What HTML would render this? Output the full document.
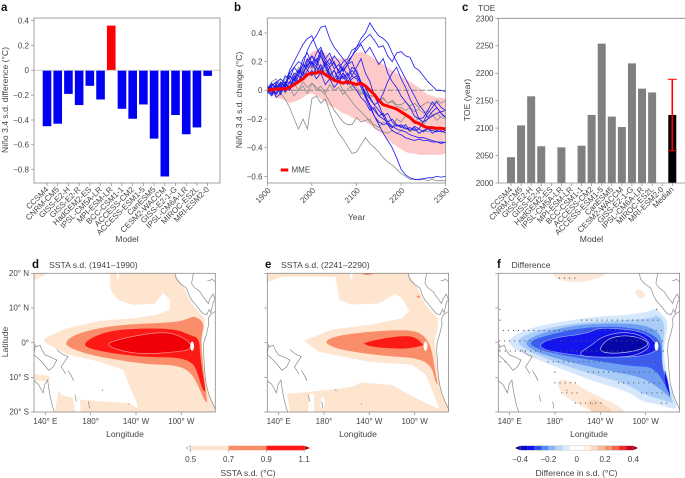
<!DOCTYPE html>
<html>
<head>
<meta charset="utf-8">
<title>ENSO variability figure</title>
<style>
html,body{margin:0;padding:0;background:#fff;}
svg{display:block;}
text{font-family:"Liberation Sans",sans-serif;fill:#444;font-size:8px;}
.t{font-size:8.6px;fill:#444;}
.p{font-size:11.5px;font-weight:bold;fill:#111;}
</style>
</head>
<body>
<svg id="fig" xmlns="http://www.w3.org/2000/svg" width="685" height="478" viewBox="0 0 685 478">
<rect x="0" y="0" width="685" height="478" fill="#fff"/>
<text class="p" x="1" y="11">a</text>
<text class="p" x="234" y="11">b</text>
<text class="p" x="462" y="11">c</text>
<text class="t" x="478" y="11">TOE</text>
<text class="p" x="32" y="268">d</text>
<text class="t" x="49" y="268">SSTA s.d. (1941–1990)</text>
<text class="p" x="265" y="268">e</text>
<text class="t" x="281" y="268">SSTA s.d. (2241–2290)</text>
<text class="p" x="497" y="268">f</text>
<text class="t" x="511.5" y="268">Difference</text>
<text class="t" text-anchor="middle" transform="translate(8,100) rotate(-90)">Niño 3.4 s.d. difference (°C)</text>
<text class="t" text-anchor="middle" x="127" y="242">Model</text>
<text class="t" text-anchor="middle" transform="translate(242,100) rotate(-90)">Niño 3.4 s.d. change (°C)</text>
<text class="t" text-anchor="middle" x="356.5" y="220">Year</text>
<text class="t" text-anchor="middle" transform="translate(470,100) rotate(-90)">TOE (year)</text>
<text class="t" text-anchor="middle" x="591.5" y="242">Model</text>
<text class="t" text-anchor="middle" transform="translate(8,342) rotate(-90)">Latitude</text>
<text class="t" text-anchor="middle" x="125" y="437">Longitude</text>
<text class="t" text-anchor="middle" x="358" y="437">Longitude</text>
<text class="t" text-anchor="middle" x="589" y="437">Longitude</text>
<text class="t" text-anchor="middle" x="248" y="476">SSTA s.d. (°C)</text>
<text class="t" text-anchor="middle" x="576.5" y="476">Difference in s.d. (°C)</text>
</svg>
<script>
// ---------- Panel a data ----------
const modelsA = ["CCSM4","CNRM-CM5","GISS-E2-H","GISS-E2-R","HadGEM2-ES","IPSL-CM5A-LR","MPI-ESM-LR","BCC-CSM1-1","ACCESS-CM2","ACCESS-ESM1-5","CanESM5","CESM2-WACCM","GISS-E2-1-G","IPSL-CM6A-LR","MIROC-ES2L","MRI-ESM2-0"];
const sdDifference = [-0.45,-0.43,-0.19,-0.28,-0.125,-0.235,0.36,-0.31,-0.39,-0.275,-0.55,-0.855,-0.36,-0.515,-0.46,-0.045];
const ticksA = [0.4,0.2,0,-0.2,-0.4,-0.6,-0.8];
const ticksALabels = ["0.4","0.2","0","−0.2","−0.4","−0.6","−0.8"];

// ---------- Panel b data ----------
const years = [1900,1910,1920,1930,1940,1950,1960,1970,1980,1990,2000,2010,2020,2030,2040,2050,2060,2070,2080,2090,2100,2110,2120,2130,2140,2150,2160,2170,2180,2190,2200,2210,2220,2230,2240,2250,2260,2270,2280,2290,2300];
const bandUpper = [.03,.04,.04,.05,.06,.08,.11,.15,.19,.23,.27,.28,.28,.26,.24,.23,.22,.22,.22,.24,.26,.27,.26,.24,.22,.20,.18,.16,.14,.12,.10,.08,.06,.04,.02,-.01,-.03,-.04,-.05,-.05,-.06];
const bandLower = [-.02,-.03,-.05,-.06,-.07,-.09,-.08,-.07,-.05,-.03,-.02,-.04,-.06,-.08,-.11,-.12,-.14,-.16,-.17,-.19,-.20,-.21,-.22,-.24,-.26,-.28,-.31,-.34,-.37,-.39,-.41,-.43,-.44,-.44,-.45,-.45,-.45,-.45,-.45,-.45,-.44];
const mme = [.01,.00,.01,.01,.01,.02,.04,.06,.08,.11,.12,.12,.13,.11,.09,.07,.06,.05,.06,.05,.04,.05,.03,.00,-.03,-.07,-.10,-.11,-.12,-.13,-.15,-.17,-.19,-.22,-.23,-.25,-.26,-.26,-.265,-.265,-.27];
const blue1 = [.00,.03,.06,.02,.10,.08,.16,.20,.18,.28,.34,.38,.44,.45,.36,.30,.26,.22,.18,.20,.12,.06,.02,-.05,-.10,-.14,-.18,-.16,-.22,-.25,-.24,-.26,-.28,-.25,-.27,-.22,-.20,-.18,-.16,-.15,-.14];
const blue2 = [.01,-.03,.04,.00,.06,.05,.12,.10,.18,.14,.20,.12,.18,.10,.16,.08,.14,.20,.22,.28,.30,.36,.40,.47,.42,.38,.36,.33,.26,.20,.14,.08,.02,-.04,-.10,-.14,-.19,-.15,-.12,-.16,-.19];
const blue3 = [-.01,.02,-.02,.05,.03,.10,.07,.14,.12,.18,.20,.16,.24,.18,.22,.15,.18,.13,.18,.24,.30,.33,.36,.39,.35,.30,.31,.24,.20,.26,.27,.24,.23,.16,.14,.10,.06,.03,.00,.00,-.01];
const blue4 = [-.02,.01,-.03,.02,.00,.06,.04,.10,.08,.14,.10,.16,.12,.18,.10,.14,.08,.12,.06,.10,.08,.02,-.05,-.12,-.18,-.24,-.30,-.35,-.40,-.47,-.55,-.59,-.61,-.62,-.62,-.615,-.61,-.61,-.60,-.605,-.60];
const blue5 = [.02,-.02,.03,-.01,.04,.02,.08,.14,.10,.20,.24,.18,.26,.20,.16,.20,.12,.16,.10,.16,.14,.06,-.04,-.10,-.14,-.18,-.20,-.22,-.25,-.27,-.28,-.29,-.31,-.32,-.33,-.33,-.34,-.35,-.36,-.36,-.365];
const blue6 = [.00,.04,.01,.06,.02,.12,.16,.12,.22,.26,.18,.26,.30,.22,.18,.24,.20,.14,.18,.10,.16,.22,.12,.06,-.04,-.10,-.18,-.24,-.28,-.30,-.31,-.33,-.34,-.35,-.34,-.35,-.35,-.36,-.36,-.37,-.36];
const blue7 = [-.01,-.04,.02,-.03,.05,.02,.10,.06,.15,.22,.16,.22,.14,.20,.12,.06,.10,.16,.20,.24,.28,.32,.26,.30,.24,.18,.22,.12,.06,.02,-.04,-.08,-.12,-.18,-.20,-.19,-.14,-.08,-.12,-.16,-.19];
const blue8 = [.01,.05,.00,.04,-.01,.03,.08,.05,.12,.10,.14,.08,.12,.04,.08,.02,.06,.10,.04,.08,.10,.05,-.02,-.06,-.10,-.08,-.02,.06,.12,.16,.08,.02,-.06,-.12,-.20,-.22,-.16,-.12,-.08,-.12,-.14];
const blue9 = [.03,.00,.05,.08,.04,.14,.20,.26,.32,.36,.38,.30,.24,.16,.10,.14,.06,.12,.08,.14,.10,.04,-.03,-.10,-.18,-.22,-.24,-.23,-.26,-.24,-.25,-.27,-.26,-.28,-.27,-.29,-.27,-.28,-.29,-.28,-.30];
const blue10 = [.00,.02,-.05,-.02,.03,.00,.06,.12,.18,.16,.24,.20,.28,.22,.26,.18,.14,.08,.12,.04,.00,-.05,-.08,-.14,-.12,-.18,-.16,-.22,-.20,-.24,-.26,-.24,-.28,-.26,-.30,-.28,-.26,-.30,-.28,-.29,-.28];
const gray1 = [.00,.04,.05,-.02,-.06,-.12,-.20,-.27,-.20,-.27,-.06,-.04,-.09,-.06,-.15,-.24,-.30,-.34,-.39,-.44,-.43,-.38,-.33,-.37,-.40,-.43,-.47,-.50,-.52,-.55,-.58,-.60,-.62,-.62,-.625,-.62,-.63,-.62,-.63,-.63,-.63];
const gray2 = [.01,.06,.08,.03,-.02,.02,-.04,.00,.03,-.02,.05,.02,.00,-.03,-.08,-.14,-.18,-.22,-.24,-.24,-.19,-.22,-.21,-.20,-.26,-.28,-.29,-.30,-.28,-.30,-.28,-.26,-.29,-.27,-.30,-.28,-.29,-.27,-.28,-.26,-.27];
const gray3 = [-.01,.03,.06,.08,.05,.10,.08,.14,.12,.17,.15,.18,.12,.14,.10,.08,.06,.00,-.04,-.08,-.12,-.15,-.18,-.22,-.24,-.26,-.22,-.24,-.26,-.20,-.22,-.18,-.20,-.22,-.19,-.24,-.20,-.17,-.21,-.18,-.18];
const gray4 = [.02,.00,.04,.02,.08,.12,.10,.16,.13,.20,.18,.14,.16,.10,.12,.07,.09,.04,.06,.01,.00,-.03,-.01,-.05,-.04,-.08,-.06,-.09,-.07,-.10,-.10,-.08,-.11,-.09,-.12,-.10,-.08,-.10,-.07,-.09,-.07];
const gray5 = [.00,-.03,.03,.00,.06,.02,.05,.00,.06,.02,.05,.00,.03,-.02,.04,.00,.02,-.03,.01,.03,.02,-.02,.01,-.04,-.03,-.07,-.05,-.09,-.08,-.11,-.12,-.14,-.12,-.15,-.13,-.16,-.14,-.17,-.16,-.19,-.20];
const ticksB = [0.4,0.2,0,-0.2,-0.4,-0.6];
const ticksBLabels = ["0.4","0.2","0","−0.2","−0.4","−0.6"];
const ticksYear = [1900,2000,2100,2200,2300];

// ---------- Panel c data ----------
const modelsC = ["CCSM4","CNRM-CM5","GISS-E2-H","GISS-E2-R","HadGEM2-ES","IPSL-CM5A-LR","MPI-ESM-LR","BCC-CSM1-1","ACCESS-CM2","ACCESS-ESM1-5","CanESM5","CESM2-WACCM","GISS-E2-1-G","IPSL-CM6A-LR","MIROC-ES2L","MRI-ESM2-0","Median"];
const toeYear = [2047,2105,2158,2067,null,2065,null,2068,2124,2254,2121,2102,2218,2172,2165,null,2124];
const toeRange = [2059,2189];
const ticksC = [2000,2050,2100,2150,2200,2250,2300];

// ---------- Map data (longitude °E, latitude °N) ----------
const dWhite = [[130,18],[142.6,20],[197,20],[197.6,15.2],[204.4,12.3],[217.6,10.9],[236.8,11.3],[244,14.4],[250,12.3],[249.4,9.4],[238.2,8],[217.6,7],[188.2,6.3],[158.8,4.1],[138.8,1.2],[139.7,0],[158.8,-3.3],[188.2,-5.5],[208.8,-7.9],[213.2,-11.7],[221.2,-17.7],[220.6,-18.9],[214.7,-17.5],[194.1,-17],[170.6,-16.5],[171.2,-20],[166.2,-20],[164.7,-16],[154.4,-15.1],[151.5,-13.7],[148.5,-20],[130,-20],[130,-11],[144.1,-11],[143.5,-9.6],[130.9,-9.1],[130,-9]];
const landWhite = [[254.4,20],[261.8,16.2],[269.1,11.3],[275,8.9],[280.9,7],[280,3.7],[277.6,.8],[279.5,-6],[284,-15],[288.2,-18],[290,-20],[290,20]];
const notchWhite = [[202.5,20],[205.5,20],[204,17.5]];
const dOrange = [[157.4,0],[164.7,2.2],[188.2,4.4],[217.6,5.4],[252.9,5.8],[264.7,6.7],[270.6,7.7],[276.5,6.8],[280.3,5.1],[277.4,1.5],[278.8,-6],[282.9,-17.3],[282.9,-17.3],[280,-16.5],[273.5,-11.3],[266.2,-7.9],[252.9,-6.4],[232.4,-6.3],[202.9,-5],[176.5,-3.3],[160.3,-1.3]];
const dRed = [[172.9,-.4],[185.3,2.2],[202.9,3.7],[232.4,4.2],[255.9,3.8],[267.6,2.2],[275.9,1.3],[276.5,-4],[281.5,-14.1],[281.5,-14.1],[278.8,-13.7],[273.5,-7.9],[269.1,-5.5],[255.9,-4.2],[232.4,-4.2],[202.9,-3.3],[179.4,-1.8]];
const dDeep = [[194.1,-.5],[202.9,.8],[223.5,2.2],[241.2,3],[255.9,2.5],[269.1,-.2],[267.6,-2.1],[255.9,-2.6],[232.4,-3.3],[214.7,-2.9],[200,-1.6]];
const eWhite = [[130,17.4],[142.9,19],[190,19],[193.8,12.3],[204.7,11],[228.2,11.3],[242.9,14],[248.8,12.8],[255.3,9.2],[248.8,7],[219.4,5.1],[187.1,3.8],[162.6,.6],[175.3,-2.6],[219.4,-5.5],[257.6,-6.4],[269.4,-9],[275.3,-13.6],[281.8,-19.2],[272.4,-17.8],[257.6,-15.4],[240,-12.2],[213.5,-11.5],[204.7,-12.7],[181.2,-13.7],[147.4,-14.8],[150.3,-20],[130,-20]];
const eStrip = [[167,-14.7],[171,-14.7],[171.6,-20],[166,-20]];
const eIsland = [[178.8,-14.8],[181.3,-17.4],[178.8,-20],[176.3,-17.4]];
const eOrange = [[180.6,.3],[190,1.9],[219.4,3.2],[248.8,3.7],[263.5,3.2],[270.9,1],[275.3,-2.1],[277.4,-6.9],[280.6,-12.2],[280.6,-12.2],[278.2,-11.3],[275.3,-6.9],[263.5,-4.5],[240,-4],[219.4,-3.3],[195.9,-2.1],[185.6,-1]];
const eOrangeTop = [[213.5,20],[225.3,20],[220,19.5],[216,19.5]];
const eOrangeSpot = [[261.5,13.5],[265,13.5],[263.5,12.7]];
const eRed = [[215,-.2],[215,-.2],[225.3,.8],[248.8,2],[260.6,1.7],[267.9,-.7],[267.9,-.7],[254.7,-1.8],[234.1,-1.6],[219.4,-1]];
const fL1 = [[138.8,1.2],[156.5,4.1],[185.9,6.1],[215.3,7.5],[244.7,8],[262.4,8.9],[267.6,9.9],[272.6,8.9],[280,6.1],[277.6,1.7],[275.6,-4],[281.5,-12.7],[287.4,-18],[287.4,-18],[285.9,-19.4],[274.1,-18],[256.5,-17],[244.7,-14.1],[215.3,-11.3],[180,-6.9],[147.6,-2.6],[140.3,-.7]];
const fL2 = [[144.7,.8],[165.3,3.7],[200.6,5.8],[244.7,6.5],[263.8,7],[271.2,8],[277.1,5.6],[275.6,.3],[273.5,-5],[280,-12.7],[284.4,-17.5],[284.4,-17.5],[274.1,-16.5],[256.5,-14.6],[241.8,-11.7],[215.3,-9.3],[182.9,-6],[153.5,-2.1]];
const fL3 = [[152,.3],[171.2,3.2],[203.5,5.4],[244.7,5.6],[265.3,4.6],[275.6,1.3],[274.1,-6.9],[280.6,-13.2],[282,-16],[282,-16],[274.1,-13.7],[259.4,-10.3],[238.8,-8.8],[209.4,-6.9],[177,-4.2],[159.4,-2.1]];
const fL4 = [[156.5,.3],[177,2.5],[209.4,4.6],[244.7,4.6],[265.3,2.7],[274.1,-.2],[274.1,-6.9],[280.6,-12.7],[281.5,-15.6],[281.5,-15.6],[275.6,-10.8],[265.3,-6.9],[250.6,-6.9],[221.2,-5.5],[185.9,-3.6],[162.4,-1.6]];
const fL5 = [[165.3,-.7],[177,1.3],[209.4,2.7],[218.2,4.4],[250.6,3.7],[265.3,1.7],[271.2,-1.6],[265.3,-3.1],[250.6,-4.2],[215.3,-4.2],[185.9,-3.1],[171.2,-2.1]];
const fTail = [[277,-7.9],[277,-7.9],[280,-11.7],[281.5,-15.1],[281.5,-15.1],[277,-11.7]];
const fL6 = [[199.1,-3.6],[212.4,-.7],[221.2,1.7],[238.8,3.2],[256.5,2.2],[265.3,-.7],[256.5,-3.1],[241.8,-4.2],[215.3,-4.2]];
const fL7 = [[219.1,-1.6],[227.1,1.3],[241.8,2.2],[256.5,1.3],[263.8,-.4],[253.5,-2.3],[235.9,-3.1],[222.6,-2.9]];
const fPos = [[181.5,-11.7],[185.9,-10.3],[197.6,-11.7],[215.3,-15.1],[235.9,-18],[241.8,-20],[241.8,-20],[215.3,-20],[215.3,-20],[197.6,-17.5],[185.9,-14.6]];
const fPos2 = [[206.5,-17],[215.3,-16],[224.1,-18],[231.5,-20],[231.5,-20],[212.4,-20],[212.4,-20]];
const fTop = [[177,20],[177,20],[227,20],[227,20],[218.2,18.6],[205,17.4],[190.3,17.6],[181.5,18.3]];
const fSpot = [[250,14.7],[255,15.7],[260.9,13.8],[256.5,12.5],[252.1,13.3]];
const stippleRows = [
  [18.6,[[184,199]]],
  [9.6,[[131.5,132],[269.7,270]]],
  [6.5,[[131.5,132],[203.5,274]]],
  [3.5,[[134.4,277]]],
  [.5,[[131,277]]],
  [-2.4,[[131.5,277]]],
  [-5.5,[[131.5,136],[174,277]]],
  [-8.5,[[180,181],[209.4,277]]],
  [-11.6,[[180,198],[236,277]]],
  [-14.5,[[186,200],[256.5,277]]],
  [-17.4,[[198,222.6],[274,281.5]]]
];
const coastlines = [
  [[254.4,20],[255.5,18.4],[257.4,17.6],[260,16.8],[264.7,15.7],[267,13.6],[269.1,12.3],[272,11.2],[276.5,9.4],[279,8.4],[282.4,8],[284.5,9.6],[286,8.6],[288.2,11.8],[290,12.3]],
  [[290,9],[286,8.2],[283.8,7],[284.2,5.2],[283,3.7],[281.6,1.8],[280,.3],[279.4,-2],[280,-5],[280.6,-8],[281.8,-11.7],[284,-14.6],[286.8,-17],[288.5,-18],[290,-19.4]],
  [[270.6,20],[269.1,17.1],[272,15.8],[276.5,14.7],[279,13.4],[283.8,11.3],[285,12.6],[288,14],[290,12.3]],
  [[283,18],[285,17.8],[287,18.4],[290,17.5]],
  [[130,-.2],[132,-1.2],[135.3,-.7],[136.8,-2],[140,-3.6],[145,-4.2],[150,-5],[147,-7],[143,-8],[138,-6],[134,-4.6],[130,-3.5],[131,-1]],
  [[150,-2],[153,-2.8],[156,-3.5],[160,-4],[157,-5.5],[154,-7],[156,-8],[158,-9]],
  [[160,-8],[163,-9.6],[165,-11],[162,-9]],
  [[130,-11],[134,-12],[138,-14.5],[139.5,-12],[142,-10.8],[143,-13],[144,-15],[146,-18],[148,-20]],
  [[166,-15],[166.8,-16],[167.3,-17]],
  [[178,-17],[178.6,-18],[179,-19]],
  [[190,-13.5],[191,-14]],
  [[213,-17.4],[213.3,-17.8]]
];

// ---------- Colorbar data ----------
const sstBounds = [0.5,0.7,0.9,1.1];
const sstColors = ["#fee5cf","#fb8e6a","#fb1a15"];
const sstTickLabels = ["0.5","0.7","0.9","1.1"];
const diffBounds = [-0.4,-0.35,-0.3,-0.25,-0.2,-0.15,-0.1,-0.05,0,0.05,0.1,0.15,0.2,0.25,0.3,0.35,0.4];
const diffColors = ["#0808c8","#1010ee","#2f4ff0","#5a88f2","#8db8f5","#b9d6f9","#dbe9fb","#ffffff","#ffffff","#fdeee0","#fbd9bd","#f8b894","#f59070","#f3644a","#ee2a20","#d0001c"];
const diffTicks = [-0.4,-0.2,0,0.2,0.4];
const diffTickLabels = ["−0.4","−0.2","0","0.2","0.4"];

// ---------- Helpers ----------
const NS = "http://www.w3.org/2000/svg";
const fig = document.getElementById("fig");
function mk(tag, props, parent) {
  const node = document.createElementNS(NS, tag);
  for (const k in props) node.setAttribute(k, props[k]);
  (parent || fig).appendChild(node);
  return node;
}
function label(txt, props, parent) {
  const node = mk("text", props, parent);
  node.textContent = txt;
  return node;
}
const AXIS = "#8a8a8a";

// ---------- Panel a ----------
const ax = i => 47 + i * 10.71;
const ay = v => 70.3 - v * 124.2;
modelsA.forEach((m, i) => {
  const v = sdDifference[i];
  const bar = mk("rect", {x: ax(i) - 4.3, y: Math.min(ay(v), ay(0)), width: 8.6, height: Math.abs(ay(v) - ay(0)), fill: v > 0 ? "#ff0000" : "#0000f5"});
  
  
  const tick = mk("line", {x1: ax(i), x2: ax(i), y1: 183, y2: 186, stroke: AXIS, "stroke-width": 0.7});
  
  
  const t = label(m, {"text-anchor": "end", transform: "translate(" + (ax(i) + 2) + ",190) rotate(-45)", "font-size": "7.4"});
  
  
});
const zeroA = mk("line", {x1: 34, x2: 220, y1: ay(0), y2: ay(0), stroke: "#c8c8c8", "stroke-width": 0.8});


const frameA = mk("rect", {x: 34, y: 18, width: 186, height: 165, fill: "none", stroke: AXIS, "stroke-width": 0.8});


ticksA.forEach((v, i) => {
  const tick = mk("line", {x1: 31, x2: 34, y1: ay(v), y2: ay(v), stroke: AXIS, "stroke-width": 0.7});
  
  
  const t = label(ticksALabels[i], {x: 29, y: ay(v) + 2.9, "text-anchor": "end"});
  
  
});

// ---------- Panel b ----------
const bx = yr => 267.3 + (yr - 1900) * 0.446;
const by = v => 90.3 - v * 143.5;
const clipB = mk("clipPath", {id: "clip-b"});
mk("rect", {x: 267.3, y: 18, width: 178.4, height: 165}, clipB);
const gb = mk("g", {"clip-path": "url(#clip-b)"});


const linePts = s => s.map((v, i) => bx(years[i]).toFixed(1) + "," + by(v).toFixed(1)).join(" ");
const band = mk("polygon", {points: linePts(bandUpper) + " " + bandLower.map((v, i) => bx(years[i]).toFixed(1) + "," + by(v).toFixed(1)).reverse().join(" "), fill: "#fdc9c9"}, gb);


[gray1, gray2, gray3, gray4, gray5].forEach(s => {
  const l = mk("polyline", {points: linePts(s), fill: "none", stroke: "#8c8c8c", "stroke-width": 0.8}, gb);
  
  
});
const zeroB = mk("line", {x1: 267.3, x2: 445.7, y1: by(0), y2: by(0), stroke: "#8c8c8c", "stroke-width": 1, "stroke-dasharray": "6 2"}, gb);


[blue1, blue2, blue3, blue4, blue5, blue6, blue7, blue8, blue9, blue10].forEach(s => {
  const l = mk("polyline", {points: linePts(s), fill: "none", stroke: "#1818f5", "stroke-width": 0.8}, gb);
  
  
});
const mmeLine = mk("polyline", {points: linePts(mme), fill: "none", stroke: "#ff0000", "stroke-width": 3, "stroke-linejoin": "round"}, gb);


const frameB = mk("rect", {x: 267.3, y: 18, width: 178.4, height: 165, fill: "none", stroke: AXIS, "stroke-width": 0.8});


ticksB.forEach((v, i) => {
  const tick = mk("line", {x1: 264.3, x2: 267.3, y1: by(v), y2: by(v), stroke: AXIS, "stroke-width": 0.7});
  
  
  const t = label(ticksBLabels[i], {x: 262.5, y: by(v) + 2.9, "text-anchor": "end"});
  
  
});
ticksYear.forEach(yr => {
  const tick = mk("line", {x1: bx(yr), x2: bx(yr), y1: 183, y2: 186, stroke: AXIS, "stroke-width": 0.7});
  
  
  const t = label(String(yr), {"text-anchor": "end", transform: "translate(" + (bx(yr) + 4) + ",191) rotate(-45)"});
  
  
});
const legLine = mk("line", {x1: 280.7, x2: 288.3, y1: 170, y2: 170, stroke: "#ff0000", "stroke-width": 3});


const legText = label("MME", {x: 291.5, y: 172.6, "font-size": "7"});



// ---------- Panel c ----------
const cx = i => 511 + i * 10.08;
const cy = v => 183 - (v - 2000) * 0.5487;
modelsC.forEach((m, i) => {
  const v = toeYear[i];
  if (v !== null) {
    const bar = mk("rect", {x: cx(i) - 4, y: cy(v), width: 8, height: cy(2000) - cy(v), fill: m === "Median" ? "#000" : "#808080"});
    
    
  }
  const tick = mk("line", {x1: cx(i), x2: cx(i), y1: 183, y2: 186, stroke: AXIS, "stroke-width": 0.7});
  
  
  const t = label(m, {"text-anchor": "end", transform: "translate(" + (cx(i) + 2) + ",190) rotate(-45)", "font-size": "7.4"});
  
  
});
const medX = cx(modelsC.length - 1);
const errV = mk("line", {x1: medX, x2: medX, y1: cy(toeRange[0]), y2: cy(toeRange[1]), stroke: "#ff0000", "stroke-width": 1.6});


toeRange.forEach(v => {
  const cap = mk("line", {x1: medX - 4.5, x2: medX + 4.5, y1: cy(v), y2: cy(v), stroke: "#ff0000", "stroke-width": 1});
  
  
});
const spineC = mk("path", {d: "M685 18.3H498.3V183H685", fill: "none", stroke: AXIS, "stroke-width": 0.8});


ticksC.forEach(v => {
  const tick = mk("line", {x1: 495.3, x2: 498.3, y1: cy(v), y2: cy(v), stroke: AXIS, "stroke-width": 0.7});
  
  
  const t = label(String(v), {x: 493.5, y: cy(v) + 2.9, "text-anchor": "end"});
  
  
});

// ---------- Maps ----------
const MAP_TOP = 273.3, MAP_H = 138.7, MAP_W = 181.3;
function smoothPath(p) {
  const mid = (a, b) => [(a[0] + b[0]) / 2, (a[1] + b[1]) / 2];
  const start = mid(p[p.length - 1], p[0]);
  let d = "M" + start[0].toFixed(1) + " " + start[1].toFixed(1);
  p.forEach((pt, i) => {
    const m = mid(pt, p[(i + 1) % p.length]);
    d += "Q" + pt[0].toFixed(1) + " " + pt[1].toFixed(1) + " " + m[0].toFixed(1) + " " + m[1].toFixed(1);
  });
  return d + "Z";
}
function drawMap(key, left, base, layers, showY) {
  const mx = lon => left + (lon - 130) * MAP_W / 160;
  const my = lat => MAP_TOP + (20 - lat) * MAP_H / 40;
  const clip = mk("clipPath", {id: "clip-" + key});
  mk("rect", {x: left, y: MAP_TOP, width: MAP_W, height: MAP_H}, clip);
  const g = mk("g", {"clip-path": "url(#clip-" + key + ")"});
  
  
  const bg = mk("rect", {x: left, y: MAP_TOP, width: MAP_W, height: MAP_H, fill: base}, g);
  
  
  layers.forEach(layer => {
    const screen = layer.pts.map(p => [mx(p[0]), my(p[1])]);
    const poly = mk("path", {d: layer.sharp ? "M" + screen.map(p => p[0].toFixed(1) + " " + p[1].toFixed(1)).join("L") + "Z" : smoothPath(screen), fill: layer.fill, stroke: layer.stroke || "none", "stroke-width": layer.stroke ? 0.7 : 0, "stroke-linejoin": "round"}, g);
    
    
  });
  const blob = mk("ellipse", {cx: mx(269.6), cy: my(-1), rx: 1.9, ry: 4.6, fill: "#fff"}, g);
  
  
  if (key === "f") {
    stippleRows.forEach(row => {
      row[1].forEach(range => {
        for (let lon = range[0]; lon <= range[1]; lon += 4.5) {
          const dot = mk("circle", {cx: mx(lon), cy: my(row[0]), r: 0.6, fill: "#555"}, g);
          
          
        }
      });
    });
  }
  coastlines.forEach(c => {
    const l = mk("polyline", {points: c.map(p => mx(p[0]).toFixed(1) + "," + my(p[1]).toFixed(1)).join(" "), fill: "none", stroke: "#8a8a8a", "stroke-width": 0.7}, g);
    
    
  });
  const frame = mk("rect", {x: left, y: MAP_TOP, width: MAP_W, height: MAP_H, fill: "none", stroke: AXIS, "stroke-width": 0.8});
  
  
  [[140,"140° E"],[180,"180°"],[220,"140° W"],[260,"100° W"]].forEach(tk => {
    const tick = mk("line", {x1: mx(tk[0]), x2: mx(tk[0]), y1: MAP_TOP + MAP_H, y2: MAP_TOP + MAP_H + 3, stroke: AXIS, "stroke-width": 0.7});
    
    
    const t = label(tk[1], {x: mx(tk[0]), y: 424, "text-anchor": "middle", "font-size": "7.2"});
    
    
  });
  [[20,"20° N"],[10,"10° N"],[0,"0°"],[-10,"10° S"],[-20,"20° S"]].forEach(tk => {
    const tick = mk("line", {x1: left - 3, x2: left, y1: my(tk[0]), y2: my(tk[0]), stroke: AXIS, "stroke-width": 0.7});
    
    
    if (showY) {
      const t = label(tk[1], {x: left - 5, y: my(tk[0]) + 2.6, "text-anchor": "end", "font-size": "7.2"});
      
      
    }
  });
}
const PEACH = "#fee5cf", ORANGE = "#fb8e6a", RED = "#fb1a15", DEEP = "#ee0006";
drawMap("d", 34, PEACH, [
  {pts: dWhite, fill: "#fff", sharp: true}, {pts: landWhite, fill: "#fff", sharp: true}, {pts: notchWhite, fill: "#fff", sharp: true},
  {pts: dOrange, fill: ORANGE}, {pts: dRed, fill: RED}, {pts: dDeep, fill: DEEP, stroke: "#fb8e8e"}
], true);
drawMap("e", 267.3, PEACH, [
  {pts: eWhite, fill: "#fff", sharp: true}, {pts: landWhite, fill: "#fff", sharp: true}, {pts: notchWhite, fill: "#fff", sharp: true},
  {pts: eStrip, fill: "#fff", sharp: true}, {pts: eIsland, fill: "#fff"},
  {pts: eOrange, fill: ORANGE}, {pts: eOrangeTop, fill: ORANGE, sharp: true}, {pts: eOrangeSpot, fill: ORANGE, sharp: true}, {pts: eRed, fill: RED}
], false);
drawMap("f", 498.3, "#fff", [
  {pts: fTop, fill: "#fde8d7"}, {pts: fSpot, fill: "#fde8d7"}, {pts: fPos, fill: "#fde8d7"}, {pts: fPos2, fill: "#fbd5b8"},
  {pts: fL1, fill: "#d6e6fb"}, {pts: fL2, fill: "#a9cdf7"}, {pts: fL3, fill: "#6e9df3"}, {pts: fL4, fill: "#3a5cf0"},
  {pts: fTail, fill: "#1010ee"}, {pts: fL5, fill: "#1414ee", stroke: "#8fa8f5"},
  {pts: fL6, fill: "#0a0ad0", stroke: "#a9b4f5"}, {pts: fL7, fill: "#0505a8", stroke: "#c4c8f5"}
], false);

// ---------- Colorbars ----------
const sx = v => 190.7 + (v - 0.5) * 189;
const CB_Y = 445.7, CB_H = 4.6;
sstColors.forEach((c, i) => {
  const r = mk("rect", {x: sx(sstBounds[i]), y: CB_Y, width: sx(sstBounds[i + 1]) - sx(sstBounds[i]), height: CB_H, fill: c});
  
  
});
const sstLow = mk("polygon", {points: "186," + (CB_Y + CB_H / 2) + " 190.7," + CB_Y + " 190.7," + (CB_Y + CB_H), fill: "#fff", stroke: "#999", "stroke-width": 0.5});


const sstHigh = mk("polygon", {points: "310," + (CB_Y + CB_H / 2) + " 304.4," + CB_Y + " 304.4," + (CB_Y + CB_H), fill: "#b00000"});


sstBounds.forEach((v, i) => {
  const tick = mk("line", {x1: sx(v), x2: sx(v), y1: CB_Y + CB_H, y2: CB_Y + CB_H + 2, stroke: AXIS, "stroke-width": 0.6});
  
  
  const t = label(sstTickLabels[i], {x: sx(v), y: 462, "text-anchor": "middle", "font-size": "7.2"});
  
  
});
const dx = v => 576.7 + v * 141.6;
diffColors.forEach((c, i) => {
  const r = mk("rect", {x: dx(diffBounds[i]), y: CB_Y, width: dx(diffBounds[i + 1]) - dx(diffBounds[i]) + 0.2, height: CB_H, fill: c});
  
  
});
const diffLow = mk("polygon", {points: "515," + (CB_Y + CB_H / 2) + " 520," + CB_Y + " 520," + (CB_Y + CB_H), fill: "#04047a"});


const diffHigh = mk("polygon", {points: "638," + (CB_Y + CB_H / 2) + " 633.3," + CB_Y + " 633.3," + (CB_Y + CB_H), fill: "#9a0014"});


const diffEdge = mk("rect", {x: 520, y: CB_Y, width: 113.3, height: CB_H, fill: "none", stroke: "#bbb", "stroke-width": 0.4});


diffTicks.forEach((v, i) => {
  const t = label(diffTickLabels[i], {x: dx(v), y: 462, "text-anchor": "middle", "font-size": "7.6"});
  
  
});
</script>
</body>
</html>
